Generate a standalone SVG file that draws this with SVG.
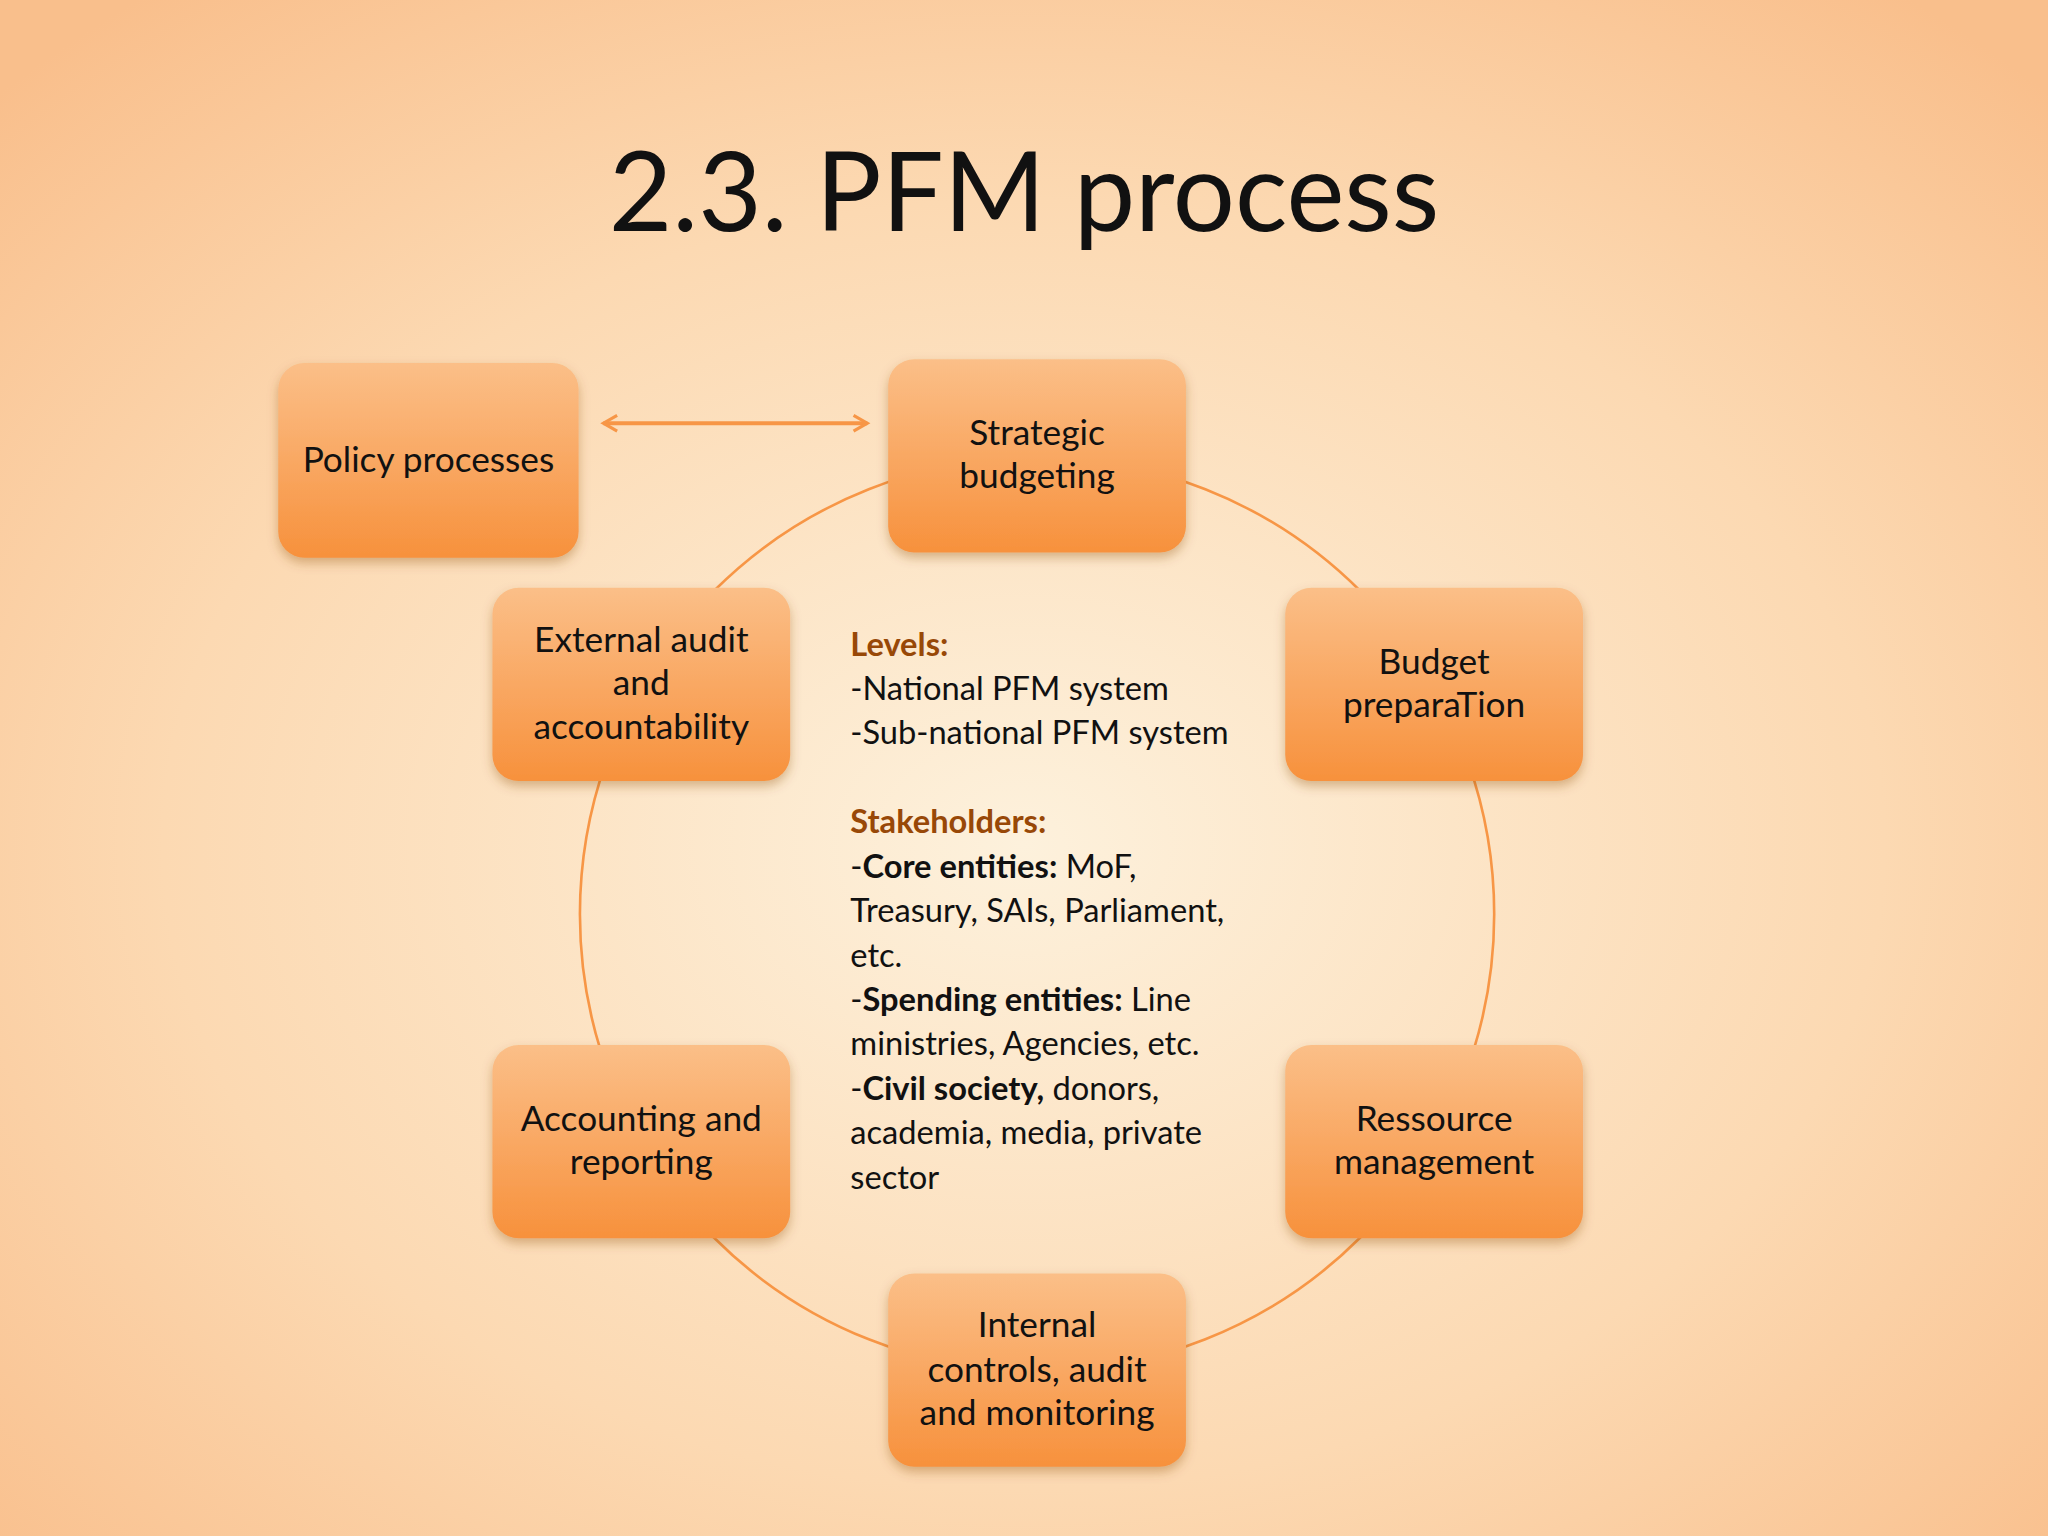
<svg xmlns="http://www.w3.org/2000/svg" width="2048" height="1536" viewBox="0 0 2048 1536">
<defs>
<radialGradient id="bg" cx="0.5" cy="0.55" r="0.7">
<stop offset="0" stop-color="#fdf1dc"/><stop offset="0.6" stop-color="#fcd9b2"/><stop offset="1" stop-color="#f9bf8c"/>
</radialGradient>
<linearGradient id="box" x1="0" y1="0" x2="0" y2="1">
<stop offset="0" stop-color="#fbbf88"/><stop offset="0.5" stop-color="#f9a863"/><stop offset="1" stop-color="#f7913c"/>
</linearGradient>
<filter id="sh" x="-20%" y="-20%" width="140%" height="150%"><feDropShadow dx="0" dy="4" stdDeviation="4" flood-color="#8a4a10" flood-opacity="0.35"/></filter>
<marker id="ah" viewBox="0 0 10 10" refX="8" refY="5" markerWidth="5" markerHeight="5" orient="auto-start-reverse"><path d="M1,1 L8,5 L1,9" fill="none" stroke="#f79646" stroke-width="1.6"/></marker>
</defs>
<style>
.b{fill:url(#box);filter:url(#sh)}
.t{font-family:Lato,"Open Sans",sans-serif;font-size:27px;fill:#111;text-anchor:middle}
.c{font-family:Lato,"Open Sans",sans-serif;font-size:25px;fill:#111}
.h{fill:#984807;font-weight:bold}
</style>
<rect width="2048" height="1536" fill="url(#bg)"/>
<g transform="scale(1.30612)">
<text x="784" y="177" font-family="Lato,'Open Sans',sans-serif" font-size="84" text-anchor="middle" fill="#111">2.3. PFM process</text>
<g id="connectors">
<circle cx="794" cy="700" r="350" fill="none" stroke="#f79646" stroke-width="2"/>
<line x1="462" y1="324" x2="664" y2="324" stroke="#f79646" stroke-width="3" marker-start="url(#ah)" marker-end="url(#ah)"/>
</g>
<g id="policy"><rect class="b" x="213" y="278" width="230" height="149" rx="20"/><text class="t" x="328" y="361">Policy processes</text></g>
<g id="strategic"><rect class="b" x="680" y="275" width="228" height="148" rx="20"/><text class="t" x="794" y="341">Strategic</text><text class="t" x="794" y="374">budgeting</text></g>
<g id="budgetprep"><rect class="b" x="984" y="450" width="228" height="148" rx="20"/><text class="t" x="1098" y="516">Budget</text><text class="t" x="1098" y="549">preparaTion</text></g>
<g id="extaudit"><rect class="b" x="377" y="450" width="228" height="148" rx="20"/><text class="t" x="491" y="499">External audit</text><text class="t" x="491" y="532">and</text><text class="t" x="491" y="566">accountability</text></g>
<g id="accounting"><rect class="b" x="377" y="800" width="228" height="148" rx="20"/><text class="t" x="491" y="866">Accounting and</text><text class="t" x="491" y="899">reporting</text></g>
<g id="ressource"><rect class="b" x="984" y="800" width="228" height="148" rx="20"/><text class="t" x="1098" y="866">Ressource</text><text class="t" x="1098" y="899">management</text></g>
<g id="internal"><rect class="b" x="680" y="975" width="228" height="148" rx="20"/><text class="t" x="794" y="1024">Internal</text><text class="t" x="794" y="1058">controls, audit</text><text class="t" x="794" y="1091">and monitoring</text></g>
<g id="center">
<text class="c" x="651" y="502"><tspan class="h">Levels:</tspan></text>
<text class="c" x="651" y="536">-National PFM system</text>
<text class="c" x="651" y="570">-Sub-national PFM system</text>
<text class="c" x="651" y="638"><tspan class="h">Stakeholders:</tspan></text>
<text class="c" x="651" y="672">-<tspan font-weight="bold">Core entities:</tspan> MoF,</text>
<text class="c" x="651" y="706">Treasury, SAIs, Parliament,</text>
<text class="c" x="651" y="740">etc.</text>
<text class="c" x="651" y="774">-<tspan font-weight="bold">Spending entities:</tspan> Line</text>
<text class="c" x="651" y="808">ministries, Agencies, etc.</text>
<text class="c" x="651" y="842">-<tspan font-weight="bold">Civil society,</tspan> donors,</text>
<text class="c" x="651" y="876">academia, media, private</text>
<text class="c" x="651" y="910">sector</text>
</g>
</g>
</svg>
